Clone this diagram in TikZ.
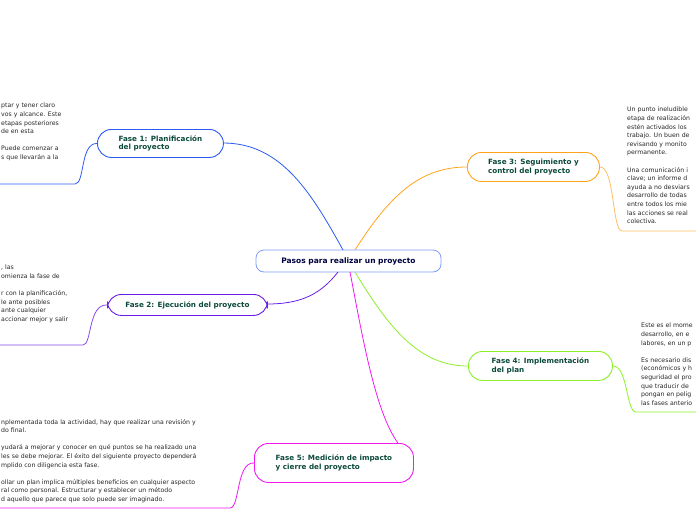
\documentclass[tikz,border=0pt]{standalone}
\usepackage{fontspec}
\setmainfont{DejaVu Sans}
\usetikzlibrary{positioning}
\definecolor{fgreen}{HTML}{0B4A3A}
\definecolor{cblue}{HTML}{2A5BF5}
\definecolor{cpurple}{HTML}{6A1CE8}
\definecolor{corange}{HTML}{FFA31A}
\definecolor{clime}{HTML}{8BF02A}
\definecolor{cmag}{HTML}{F01AF0}
\tikzset{
  fase/.style={draw, line width=0.9pt, rounded corners=14pt, fill=white, font=\fontsize{7.2}{8.6}\selectfont\bfseries, text=fgreen, align=left, anchor=north west, inner xsep=16pt},
  notes/.style={anchor=north west, align=left, inner sep=0pt, font=\fontsize{6.2}{8.6}\selectfont, text=black!85}
}
\begin{document}
\begin{tikzpicture}[x=1pt,y=-1pt]
  \useasboundingbox (0,0) rectangle (696,520);
  \clip (0,0) rectangle (696,520);
  % central topic
  \node[draw=cblue!60, line width=0.8pt, rounded corners=8pt, fill=white, minimum width=185pt, minimum height=22pt,
        font=\fontsize{7.5}{8.6}\selectfont\bfseries, text=blue!25!black] (root) at (348.5,261) {Pasos para realizar un proyecto};
  % connectors from the central topic
  \draw[cblue, line width=0.8pt] (343,250) .. controls (310,190) and (280,143) .. (223,143);
  \draw[cpurple, line width=0.8pt] (338,272) .. controls (320,295) and (300,304) .. (267,304);
  \draw[corange, line width=0.8pt] (355,250) .. controls (390,195) and (420,167) .. (467,167);
  \draw[clime, line width=0.8pt] (355,272) .. controls (390,330) and (420,366) .. (468,366);
  \draw[cmag, line width=0.8pt] (350,272) .. controls (365,350) and (380,440) .. (412,456);
  % phases
  \node[fase, draw=cblue, minimum width=126pt, minimum height=28pt] (f1) at (97,129) {Fase 1: Planificación\\del proyecto};
  \node[fase, draw=cpurple, minimum width=160pt, minimum height=21pt, inner xsep=11pt] (f2) at (107,294) {Fase 2: Ejecución del proyecto};
  \node[fase, draw=corange, minimum width=132pt, minimum height=29pt] (f3) at (467,152) {Fase 3: Seguimiento y\\control del proyecto};
  \node[fase, draw=clime, minimum width=144pt, minimum height=29pt] (f4) at (468,351) {Fase 4: Implementación\\del plan};
  \node[fase, draw=cmag, minimum width=159pt, minimum height=39pt, inner xsep=13pt] (f5) at (254,443) {Fase 5: Medición de impacto\\y cierre del proyecto};
  % notes
  \node[notes] (n1) at (1,103) {ptar y tener claro\\vos y alcance. Este\\etapas posteriores\\de en esta\\[8.6pt]Puede comenzar a\\s que llevarán a la};
  \draw[cblue, line width=0.8pt] (0,184) -- (75,184) .. controls (85,184) and (80,143) .. (f1.west);
  \node[notes] (n2) at (1,265) {, las\\omienza la fase de\\[8.6pt]r con la planificación,\\le ante posibles\\ante cualquier\\accionar mejor y salir};
  \draw[cpurple!80, line width=0.8pt] (0,345) -- (83,345) .. controls (92,345) and (88,304) .. (f2.west);
  \node[notes] (n3) at (627,107) {Un punto ineludible\\etapa de realización\\estén activados los\\trabajo. Un buen de\\revisando y monito\\permanente.\\[8.6pt]Una comunicación i\\clave; un informe d\\ayuda a no desviars\\desarrollo de todas\\entre todos los mie\\las acciones se real\\colectiva.};
  \draw[corange!70, line width=0.8pt] (f3.east) .. controls (615,167) and (612,231) .. (622,231) -- (696,231);
  \node[notes] (n4) at (641,323) {Este es el mome\\desarrollo, en e\\labores, en un p\\[8.6pt]Es necesario dis\\(económicos y h\\seguridad el pro\\que traducir de\\pongan en pelig\\las fases anterio};
  \draw[clime, line width=0.8pt] (f4.east) .. controls (628,366) and (626,412) .. (636,412) -- (696,412);
  \node[notes] (n5) at (1,419) {nplementada toda la actividad, hay que realizar una revisión y\\do final.\\[8.6pt]yudará a mejorar y conocer en qué puntos se ha realizado una\\les se debe mejorar. El éxito del siguiente proyecto dependerá\\mplido con diligencia esta fase.\\[8.6pt]ollar un plan implica múltiples beneficios en cualquier aspecto\\ral como personal. Estructurar y establecer un método\\d aquello que parece que solo puede ser imaginado.};
  \draw[cmag, line width=0.8pt] (0,508) -- (230,508) .. controls (240,508) and (236,462) .. (f5.west);
\end{tikzpicture}
\end{document}
